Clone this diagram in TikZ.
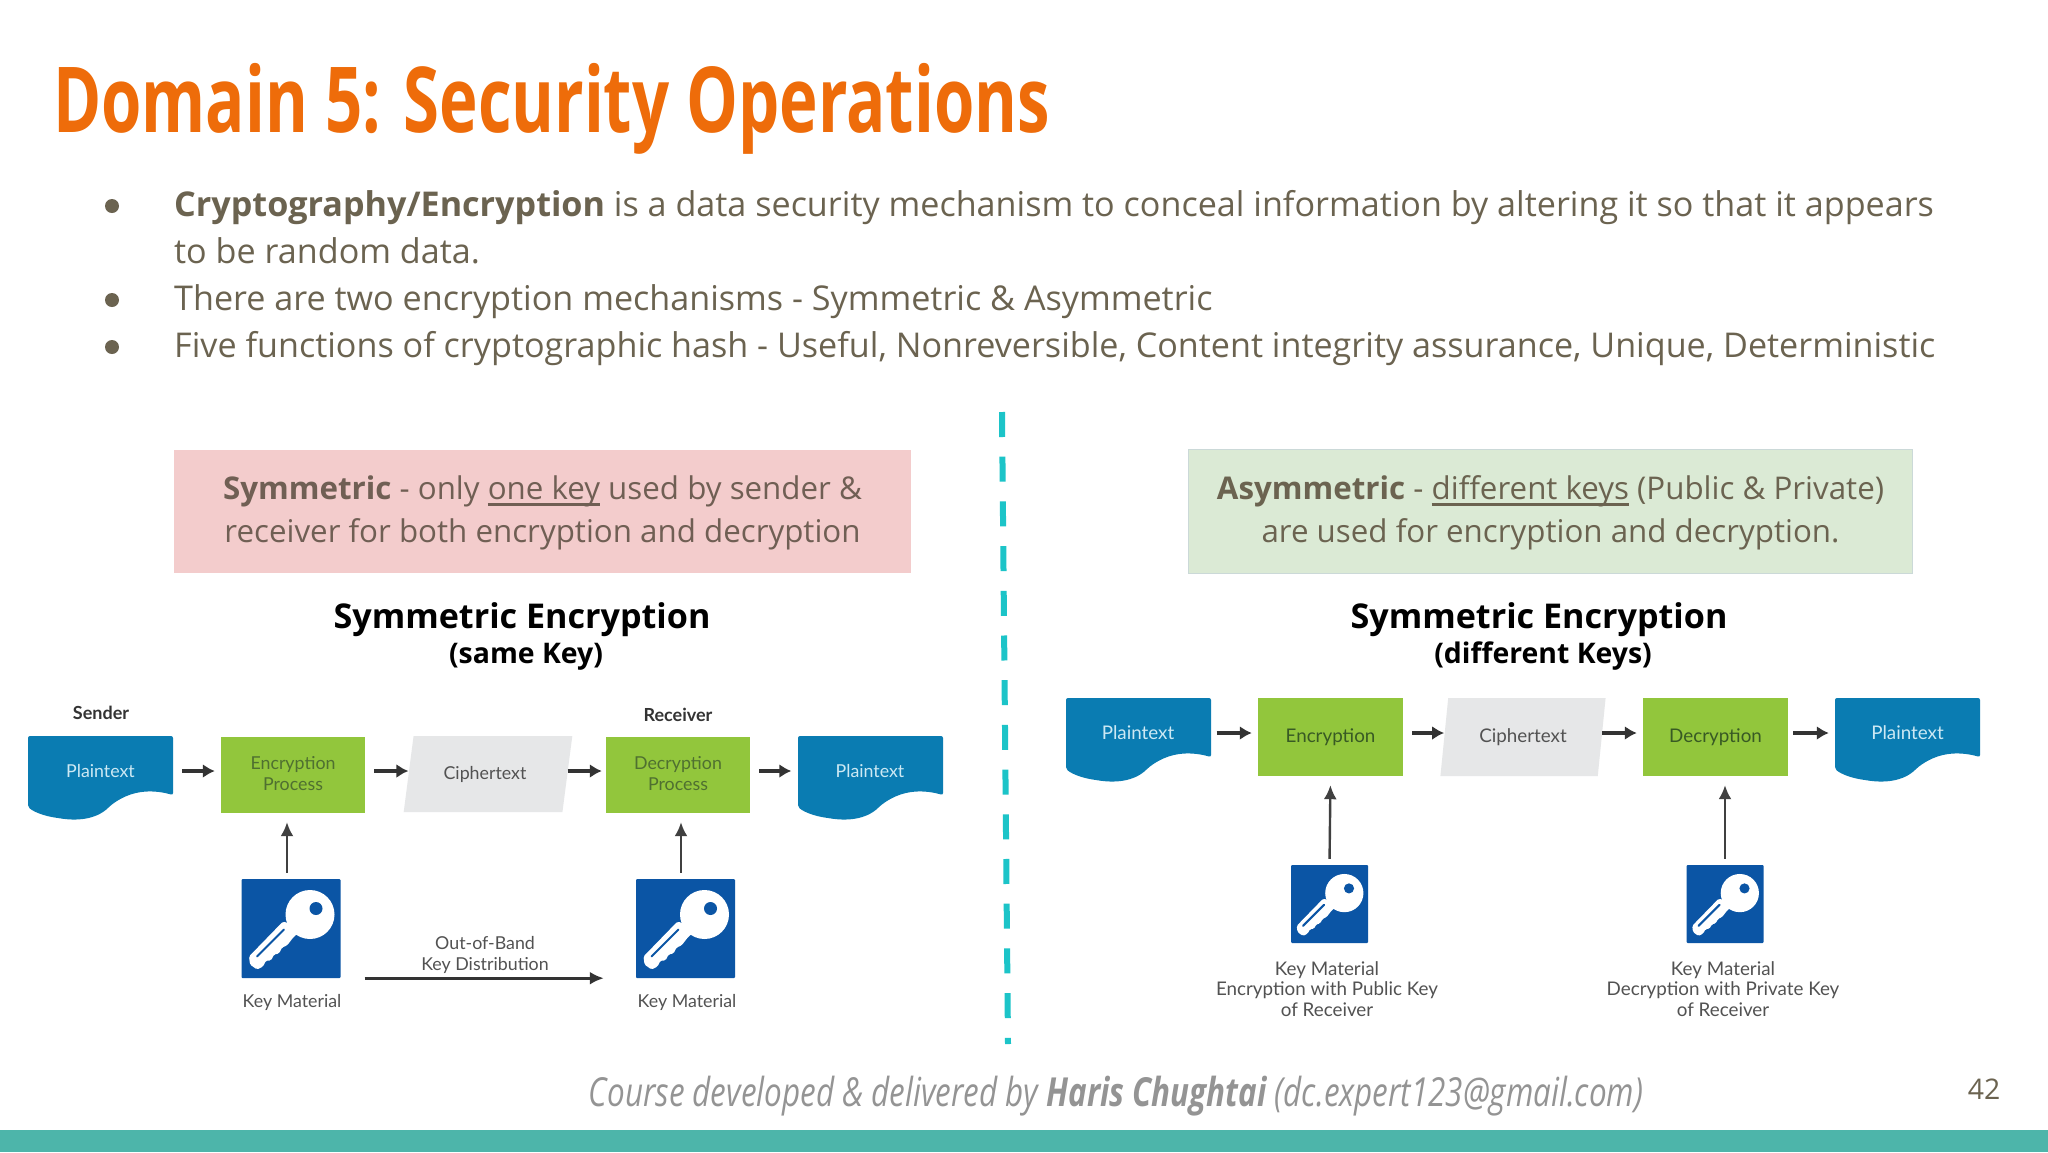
\documentclass[tikz,border=0pt]{standalone}
\usepackage{fontspec}
\usetikzlibrary{arrows.meta}
\usetikzlibrary{shapes.geometric}
\setmainfont{Open Sans}
\newfontfamily\titlefont[FakeStretch=0.717]{Open Sans}
\newfontfamily\footfont[FakeStretch=0.785]{Open Sans}
\newfontfamily\chartfont{Lato}
\newcommand{\ulined}[1]{\leavevmode\setbox0\hbox{#1}\rlap{\vrule width\wd0 height -4pt depth 6.5pt}\box0\relax}
\newcommand{\noteline}[1]{\raisebox{-1pt}[24pt][8pt]{#1}}
\definecolor{titleorange}{HTML}{EE6C0A}
\definecolor{bodytext}{HTML}{6B6350}
\definecolor{pinkbox}{HTML}{F3CCCC}
\definecolor{greenbox}{HTML}{DBEAD5}
\definecolor{greenedge}{HTML}{CBD9D8}
\definecolor{pinktext}{HTML}{705F54}
\definecolor{dashteal}{HTML}{1CC4C8}
\definecolor{bandteal}{HTML}{4DB5AA}
\definecolor{sheetblue}{HTML}{0A7CB2}
\definecolor{sheettext}{HTML}{CDE9F4}
\definecolor{procgreen}{HTML}{92C63C}
\definecolor{proctext}{HTML}{4F7030}
\definecolor{procdark}{HTML}{385A24}
\definecolor{ciphergray}{HTML}{E6E7E8}
\definecolor{keyblue}{HTML}{0B55A5}
\tikzset{
	bodyline/.style = {anchor = base west, inner sep = 0pt, text = bodytext, font = \fontsize{34.13}{47}\selectfont},
	dot/.style = {circle, fill = bodytext, inner sep = 0pt, minimum size = 14pt},
	notebox/.style = {inner sep = 0pt, text = pinktext, align = center, font = \fontsize{31.3}{43}\selectfont},
	headline/.style = {inner sep = 0pt, anchor = base, font = \bfseries\fontsize{34.13}{40}\selectfont},
	subline/.style = {inner sep = 0pt, anchor = base, font = \bfseries\fontsize{28.4}{34}\selectfont},
	chartlabel/.style = {inner sep = 0pt, align = center, text = black!68, font = \chartfont\fontsize{17.8}{20.5}\selectfont},
	widelabel/.style = {chartlabel, font = \chartfont\fontsize{18.8}{20.5}\selectfont},
	sidelabel/.style = {chartlabel, text = black!80, font = \chartfont\bfseries\fontsize{18}{20}\selectfont},
	sheetlabel/.style = {chartlabel, text = sheettext, minimum width = 145pt, minimum height = 60pt},
	procbox/.style = {chartlabel, fill = procgreen, text = proctext, minimum width = 144pt},
	cipherbox/.style = {chartlabel, trapezium, trapezium stretches = true, fill = ciphergray},
	keybox/.style = {inner sep = 0pt, fill = keyblue, rounded corners = 1pt},
	flow/.style = {-{Latex[length = 12pt, width = 14pt]}, line width = 3.4pt, black!80, shorten <= 9pt, shorten >= 6pt},
	keyflow/.style = {-{Latex[length = 14pt, width = 13pt]}, line width = 2.4pt, black!75, shorten <= 6pt, shorten >= 9pt},
	sheet/.pic = {
		\fill[sheetblue, rounded corners = 2pt] (0, 0)--(145, 0)--(145, 59)
			.. controls (120, 52) and (100, 56) .. (82, 70)
			.. controls (68, 84) and (48, 85) .. (30, 82)
			.. controls (16, 80) and (6, 76) .. (0, 71)--cycle;
	},
	keyicon/.pic = {
		\fill[white] (19, -14) circle (24.5);
		\fill[white, rounded corners = 1.5pt] (-8, -7)--(-42, 28)--(-41, 36)--(-34, 41)--(-28, 38)--(-25, 32)--(-20, 32)--(-17, 26)--(-12, 25)--(-9, 19)--(-4, 17)--(3, 8)--(14, 0)--cycle;
		\draw[keyblue, line width = 2pt, line cap = round] (-7, 1)--(-34, 28);
		\fill[keyblue] (25, -20) circle (6.5);
	}
}

\begin{document}
\begin{tikzpicture}[x = 1pt, y = -1pt]
	\path[use as bounding box, fill = white] (0, 0) rectangle (2048, 1152);

	\node[anchor = base west, inner sep = 0pt, text = titleorange, font = \titlefont\bfseries\fontsize{91}{100}\selectfont] (title) at (53, 132) {Domain 5: Security Operations};

	\node[dot] (dotA) at (112, 206) {};
	\node[dot] (dotB) at (112, 300) {};
	\node[dot] (dotC) at (112, 347) {};
	\node[bodyline] (lineA) at (174, 216) {\textbf{Cryptography/Encryption} is a data security mechanism to conceal information by altering it so that it appears};
	\node[bodyline] (lineB) at (174, 263) {to be random data.};
	\node[bodyline] (lineC) at (174, 310) {There are two encryption mechanisms - Symmetric \& Asymmetric};
	\node[bodyline] (lineD) at (174, 357) {Five functions of cryptographic hash - Useful, Nonreversible, Content integrity assurance, Unique, Deterministic};

	\coordinate (dashtop) at (1002, 412);
	\coordinate (dashend) at (1008, 1044);
	\draw[dashteal, line width = 6pt, dash pattern = on 25pt off 19.7pt] (dashtop)--(dashend);

	\node[notebox, fill = pinkbox, minimum width = 737pt, minimum height = 123pt] (symnote) at (542.5, 511.5) {\noteline{\textbf{Symmetric} - only \ulined{one key} used by sender \&}\\\noteline{receiver for both encryption and decryption}};
	\node[notebox, fill = greenbox, draw = greenedge, line width = 1.5pt, text = bodytext, minimum width = 724pt, minimum height = 124pt] (asymnote) at (1550.5, 511.5) {\noteline{\textbf{Asymmetric} - \ulined{different keys} (Public \& Private)}\\\noteline{are used for encryption and decryption.}};

	\node[headline] (symhead) at (522, 628) {Symmetric Encryption};
	\node[subline] (symsub) at (526, 663) {(same Key)};
	\node[headline] (asymhead) at (1539, 628) {Symmetric Encryption};
	\node[subline] (asymsub) at (1543, 663) {(different Keys)};

	\pic at (28, 736) {sheet};
	\pic at (798, 736) {sheet};
	\node[sidelabel] (sender) at (101, 713) {Sender};
	\node[sidelabel] (receiver) at (678, 715) {Receiver};
	\node[sheetlabel] (plainA) at (100.5, 771) {Plaintext};
	\node[procbox, minimum height = 76pt] (encA) at (293, 775) {\raisebox{3pt}{Encryption}\\\raisebox{3pt}{Process}};
	\node[cipherbox, minimum width = 170pt, minimum height = 76pt, trapezium left angle = 72.5, trapezium right angle = 107.5] (ciphA) at (488, 774) {\hspace*{-6pt}Ciphertext};
	\node[procbox, minimum height = 76pt] (decA) at (678, 775) {\raisebox{3pt}{Decryption}\\\raisebox{3pt}{Process}};
	\node[sheetlabel] (plainB) at (870, 771) {Plaintext};
	\draw[flow] (plainA.east)--(plainA.east -| encA.west);
	\draw[flow, shorten >= 0pt] (plainA.east -| encA.east)--(plainA.east -| ciphA.west);
	\draw[flow, shorten <= 0pt, shorten >= 4pt] (plainA.east -| ciphA.east)--(plainA.east -| decA.west);
	\draw[flow] (plainA.east -| decA.east)--(plainB.west);

	\node[keybox, minimum size = 99pt] (keyA) at (291, 928.5) {};
	\node[keybox, minimum size = 99pt] (keyB) at (685.5, 928.5) {};
	\pic at (keyA) {keyicon};
	\pic at (keyB) {keyicon};
	\draw[keyflow] ([xshift = -4pt]keyA.north)--([xshift = -6pt]encA.south);
	\draw[keyflow] ([xshift = -4.5pt]keyB.north)--([xshift = 3pt]decA.south);
	\node[chartlabel] (matA) at (292, 1002) {Key Material};
	\node[chartlabel] (matB) at (687, 1002) {Key Material};
	\node[chartlabel] (band) at (485, 955) {Out-of-Band\\Key Distribution};
	\draw[-{Latex[length = 14pt, width = 13pt]}, line width = 2.8pt, black!80, shorten >= 32pt, shorten <= 24pt] (keyA.south east)--(keyB.south west);

	\pic at (1066, 698) {sheet};
	\pic at (1835, 698) {sheet};
	\node[widelabel, sheetlabel, font = \chartfont\fontsize{18.8}{20.5}\selectfont] (plainC) at (1138, 733) {Plaintext};
	\node[widelabel, procbox, font = \chartfont\fontsize{18.8}{20.5}\selectfont, text = procdark, minimum height = 78pt, minimum width = 145pt] (encB) at (1330.5, 737) {\raisebox{3pt}{Encryption}};
	\node[widelabel, cipherbox, font = \chartfont\fontsize{18.8}{20.5}\selectfont, minimum width = 166pt, minimum height = 78pt, trapezium left angle = 75, trapezium right angle = 105] (ciphB) at (1523, 737) {Ciphertext};
	\node[widelabel, procbox, font = \chartfont\fontsize{18.8}{20.5}\selectfont, text = procdark, minimum height = 78pt, minimum width = 145pt] (decB) at (1715.5, 737) {\raisebox{3pt}{Decryption}};
	\node[widelabel, sheetlabel, font = \chartfont\fontsize{18.8}{20.5}\selectfont] (plainD) at (1907.5, 733) {Plaintext};
	\draw[flow, shorten <= 6pt] (plainC.east)--(plainC.east -| encB.west);
	\draw[flow, shorten >= 0pt] (plainC.east -| encB.east)--(plainC.east -| ciphB.west);
	\draw[flow, shorten <= 0pt] (plainC.east -| ciphB.east)--(plainC.east -| decB.west);
	\draw[flow, shorten <= 5pt] (plainC.east -| decB.east)--(plainD.west);

	\node[keybox, minimum width = 77pt, minimum height = 78pt] (keyC) at (1329.5, 904) {};
	\node[keybox, minimum width = 77pt, minimum height = 78pt] (keyD) at (1725, 904) {};
	\pic[scale = 0.78] at (keyC) {keyicon};
	\pic[scale = 0.78] at (keyD) {keyicon};
	\draw[keyflow] (keyC.north)--(encB.south);
	\draw[keyflow] (keyD.north)--([xshift = 9.5pt]decB.south);
	\node[widelabel] (matC) at (1327, 989) {Key Material\\Encryption with Public Key\\of Receiver};
	\node[widelabel] (matD) at (1723, 989) {Key Material\\Decryption with Private Key\\of Receiver};

	\node[anchor = base, inner sep = 0pt, text = black!42, font = \footfont\itshape\fontsize{40}{44}\selectfont] (credit) at (1116, 1106) {Course developed \& delivered by \textbf{Haris Chughtai} (dc.expert123@gmail.com)};
	\node[anchor = base, inner sep = 0pt, text = bodytext, font = \fontsize{28.4}{32}\selectfont] (pageno) at (1984, 1099) {42};
	\fill[bandteal] (0, 1130) rectangle (2048, 1152);
\end{tikzpicture}
\end{document}
